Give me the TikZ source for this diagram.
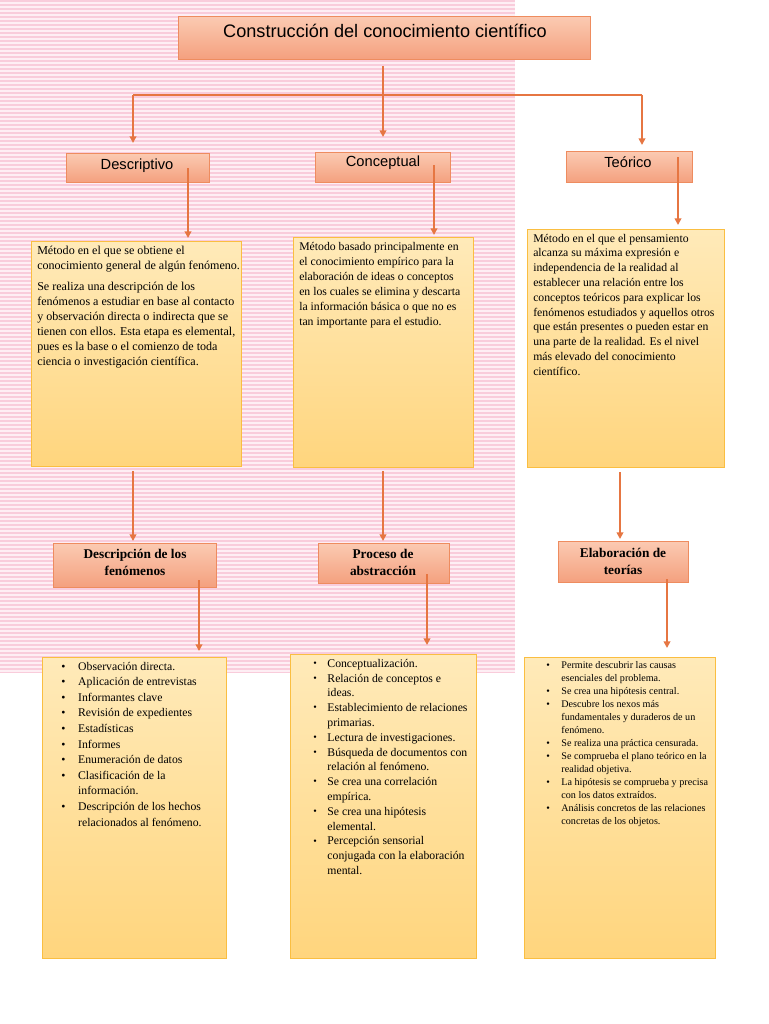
\documentclass[tikz,border=0pt]{standalone}
\usepackage{fontspec}
\setmainfont{Liberation Serif}
\newfontfamily\arialf{Liberation Sans}
\usetikzlibrary{arrows.meta,calc}
\definecolor{salT}{RGB}{251,202,178}
\definecolor{salB}{RGB}{244,160,126}
\definecolor{salD}{RGB}{238,140,95}
\definecolor{ylwT}{RGB}{255,234,185}
\definecolor{ylwB}{RGB}{255,213,125}
\definecolor{ylwD}{RGB}{250,190,65}
\definecolor{arrC}{RGB}{230,118,66}
\definecolor{stripeA}{RGB}{249,204,219}
\definecolor{stripeB}{RGB}{254,238,244}
\newcommand\smbul{\raisebox{0.6pt}{\fontsize{7.5}{7.5}\selectfont\textbullet}}
\begin{document}
\begin{tikzpicture}[x=0.75pt,y=-0.75pt,
  sz/.style 2 args={minimum width=#1*0.75pt, minimum height=#2*0.75pt},
  salbox/.style={draw=salD, line width=0.6pt, top color=salT, bottom color=salB, inner sep=0pt, anchor=north west},
  ylwbox/.style={draw=ylwD, line width=0.8pt, top color=ylwT, bottom color=ylwB, inner sep=0pt, anchor=north west},
  arr/.style={draw=arrC, line width=1.3pt, -{Triangle[length=5pt,width=5pt]}},
  brline/.style={draw=arrC, line width=1.1pt},
  paratext/.style={anchor=north west, inner sep=0pt, text=black},
  sanslab/.style={inner sep=0pt, font=\arialf\fontsize{11}{13}\selectfont},
  boldlab/.style={inner sep=0pt, align=center, font=\fontsize{10}{12.75}\selectfont\bfseries}
]
\useasboundingbox (0,0) rectangle (768,1024);
\fill[white] (0,0) rectangle (768,1024);
% striped background
\begin{scope}
\clip (0,0) rectangle (515,672);
\fill[stripeB] (0,0) rectangle (515,672);
\foreach \i in {0,...,170} {\fill[stripeA] (0,{\i*4}) rectangle (515,{\i*4+2.2});}
\end{scope}

% boxes
\node[salbox, sz={412}{43}] (title) at (178,16) {};
\node[salbox, sz={143}{29}] (desc) at (66,153) {};
\node[salbox, sz={135}{30}] (conc) at (315,152) {};
\node[salbox, sz={126}{31}] (teo) at (566,151) {};
\node[ylwbox, sz={210}{225}] (dtext) at (31,241) {};
\node[ylwbox, sz={180}{230}] (ctext) at (293,237) {};
\node[ylwbox, sz={197}{238}] (ttext) at (527,229) {};
\node[salbox, sz={163}{44}] (dlab) at (53,543) {};
\node[salbox, sz={131}{40}] (clab) at (318,543) {};
\node[salbox, sz={130}{41}] (tlab) at (558,541) {};
\node[ylwbox, sz={184}{301}] (dlist) at (42,657) {};
\node[ylwbox, sz={186}{304}] (clist) at (290,654) {};
\node[ylwbox, sz={191}{301}] (tlist) at (524,657) {};

% labels
\node[inner sep=0pt, font=\arialf\fontsize{13.6}{15}\selectfont] (titletx) at (385,31) {Construcción del conocimiento científico};
\node[sanslab] (desctx) at (137,166) {Descriptivo};
\node[sanslab] (conctx) at (383,163) {Conceptual};
\node[sanslab] (teotx) at (628,162) {Teórico};
\node[boldlab] (dlabtx) at (135,562) {Descripción de los\\fenómenos};
\node[boldlab] (clabtx) at (383,562) {Proceso de\\abstracción};
\node[boldlab] (tlabtx) at (623,561) {Elaboración de\\teorías};

% paragraph texts
\node[paratext, font=\fontsize{9.05}{11.25}\selectfont] (dpara) at (37,243.5) {\begin{tabular}{@{}l@{}}
Método en el que se obtiene el\\
conocimiento general de algún fenómeno.\\[4.5pt]
Se realiza una descripción de los\\
fenómenos a estudiar en base al contacto\\
y observación directa o indirecta que se\\
tienen con ellos. Esta etapa es elemental,\\
pues es la base o el comienzo de toda\\
ciencia o investigación científica.
\end{tabular}};
\node[paratext, font=\fontsize{8.8}{11.25}\selectfont] (cpara) at (299,239.5) {\begin{tabular}{@{}l@{}}
Método basado principalmente en\\
el conocimiento empírico para la\\
elaboración de ideas o conceptos\\
en los cuales se elimina y descarta\\
la información básica o que no es\\
tan importante para el estudio.
\end{tabular}};
\node[paratext, font=\fontsize{8.8}{11.1}\selectfont] (tpara) at (533,231.5) {\begin{tabular}{@{}l@{}}
Método en el que el pensamiento\\
alcanza su máxima expresión e\\
independencia de la realidad al\\
establecer una relación entre los\\
conceptos teóricos para explicar los\\
fenómenos estudiados y aquellos otros\\
que están presentes o pueden estar en\\
una parte de la realidad. Es el nivel\\
más elevado del conocimiento\\
científico.
\end{tabular}};

% lists
\node[paratext, font=\fontsize{8.8}{11.7}\selectfont] (dlisttx) at (61,659) {\begin{tabular}{@{}l@{\hspace{9.6pt}}l@{}}
\textbullet & Observación directa.\\
\textbullet & Aplicación de entrevistas\\
\textbullet & Informantes clave\\
\textbullet & Revisión de expedientes\\
\textbullet & Estadísticas\\
\textbullet & Informes\\
\textbullet & Enumeración de datos\\
\textbullet & Clasificación de la\\
 & información.\\
\textbullet & Descripción de los hechos\\
 & relacionados al fenómeno.
\end{tabular}};
\node[paratext, font=\fontsize{8.8}{11.1}\selectfont] (clisttx) at (313,656.6) {\begin{tabular}{@{}l@{\hspace{8pt}}l@{}}
\smbul & Conceptualización.\\
\smbul & Relación de conceptos e\\
 & ideas.\\
\smbul & Establecimiento de relaciones\\
 & primarias.\\
\smbul & Lectura de investigaciones.\\
\smbul & Búsqueda de documentos con\\
 & relación al fenómeno.\\
\smbul & Se crea una correlación\\
 & empírica.\\
\smbul & Se crea una hipótesis\\
 & elemental.\\
\smbul & Percepción sensorial\\
 & conjugada con la elaboración\\
 & mental.
\end{tabular}};
\node[paratext, font=\fontsize{7.6}{9.75}\selectfont] (tlisttx) at (546,659) {\begin{tabular}{@{}l@{\hspace{8.7pt}}l@{}}
\textbullet & Permite descubrir las causas\\
 & esenciales del problema.\\
\textbullet & Se crea una hipótesis central.\\
\textbullet & Descubre los nexos más\\
 & fundamentales y duraderos de un\\
 & fenómeno.\\
\textbullet & Se realiza una práctica censurada.\\
\textbullet & Se comprueba el plano teórico en la\\
 & realidad objetiva.\\
\textbullet & La hipótesis se comprueba y precisa\\
 & con los datos extraídos.\\
\textbullet & Análisis concretos de las relaciones\\
 & concretas de los objetos.
\end{tabular}};

% connectors
\draw[arr] ($(title.north west)+(205,50)$) -- ($(conc.north west)+(68,-15)$);
\coordinate (hL) at (133,95);
\coordinate (hR) at (642,95);
\draw[brline] (hL) -- (hR);
\draw[arr] (hL) -- ($(desc.north west)+(67,-10)$);
\draw[arr] (hR) -- ($(teo.north west)+(76,-6)$);
\draw[arr] ($(desc.north west)+(122,15)$) -- ($(dtext.north west)+(157,-3)$);
\draw[arr] ($(conc.north west)+(119,13)$) -- ($(ctext.north west)+(141,-2)$);
\draw[arr] ($(teo.north west)+(112,6)$) -- ($(ttext.north west)+(151,-4)$);
\draw[arr] ($(dtext.south west)+(102,4)$) -- ($(dlab.north west)+(80,-2)$);
\draw[arr] ($(ctext.south west)+(90,3)$) -- ($(clab.north west)+(65,-2)$);
\draw[arr] ($(ttext.south west)+(93,4)$) -- ($(tlab.north west)+(62,-2)$);
\draw[arr] ($(dlab.north west)+(146,37)$) -- ($(dlist.north west)+(157,-6)$);
\draw[arr] ($(clab.north west)+(109,31)$) -- ($(clist.north west)+(137,-9)$);
\draw[arr] ($(tlab.north west)+(109,38)$) -- ($(tlist.north west)+(143,-9)$);
\end{tikzpicture}
\end{document}
